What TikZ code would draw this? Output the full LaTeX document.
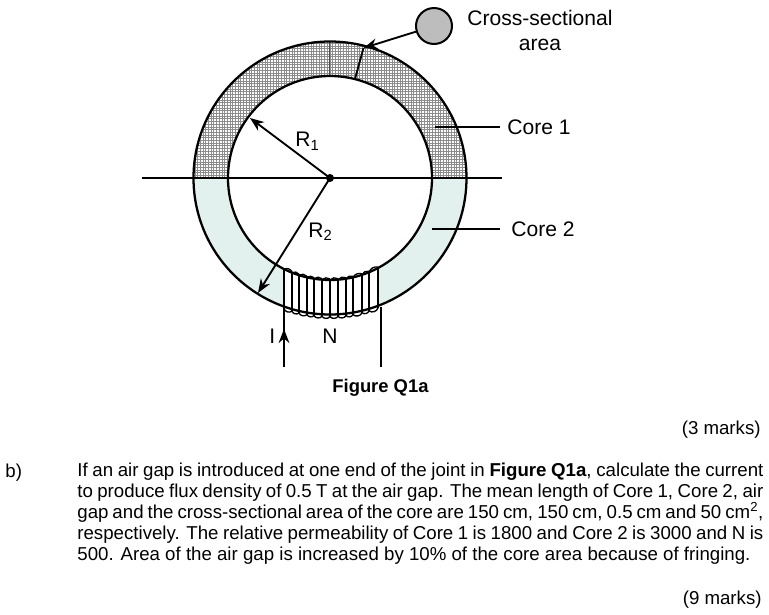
\documentclass[tikz,border=0pt]{standalone}
\usepackage{fontspec}
\setmainfont{Liberation Sans}
\usetikzlibrary{arrows.meta,positioning}
\definecolor{coretwo}{HTML}{E2F0EE}
\definecolor{circgray}{HTML}{BDBDBD}
\begin{document}
\begin{tikzpicture}[x=0.75pt, y=-0.75pt, >={Stealth[length=10.5pt,width=8pt]}, semithick, font=\fontsize{14}{15.75}\selectfont,
    declare function={coiltop(\x)=178+102*sqrt(1-((\x-330)/102)^2); coilbot(\x)=180+136.5*sqrt(1-((\x-330)/136.5)^2);}]
        \tikzstyle{wire}=[black,line width=1.4pt]
        \tikzstyle{lab}=[inner sep=0pt,anchor=base west]
        \tikzstyle{biglab}=[lab,font=\fontsize{15.8}{18.75}\selectfont]
        \useasboundingbox (0,0) rectangle (769,615);
        \coordinate (O) at (330,178);
        % core 2, lower half
        \begin{scope}
        \clip (190,178) rectangle (470,320);
        \fill[coretwo,even odd rule] (O) circle (136.5) (O) circle (102);
        \fill[white] (284,262) rectangle (379,315);
        \end{scope}
        % core 1, upper half with the fine grid
        \begin{scope}[even odd rule]
        \clip (190,178) rectangle (470,38);
        \clip (O) circle (136.5) (O) circle (102);
        \fill[white] (190,38) rectangle (470,178);
        \foreach \gx in {0,...,102}
            \draw[black!45,line width=0.25pt] (192+2.7*\gx,38) -- (192+2.7*\gx,178);
        \foreach \gy in {0,...,52}
            \draw[black!45,line width=0.25pt] (190,178-2.7*\gy) -- (470,178-2.7*\gy);
        \draw[black!70,line width=0.5pt] (329,40) -- (329,78);
        \end{scope}
        \fill[white] (O) circle (102);
        \draw[wire,line width=1.7pt] (O) circle (136.5);
        \draw[wire,line width=1.7pt] (O) circle (102);
        % coil
        \foreach \cx [remember=\cx as \px (initially 284)] in {292,299,307,314,322,330,338,346,353,362,369,378}{
            \draw[wire,line width=1pt] (\px,{coilbot(\px)}) to[bend right=60] (\cx,{coilbot(\cx)});
            \draw[wire,line width=1pt] (\px,{coiltop(\px)}) to[bend left=40] (\cx,{coiltop(\cx)-1});
        }
        \foreach \cx in {284,292,299,307,314,322,330,338,346,353,362,369,378}
            \draw[wire,line width=1.3pt] (\cx,{coiltop(\cx)-1}) -- (\cx,{coilbot(\cx)});
        % axis and radii
        \node[circle,fill=black,inner sep=0pt,minimum size=6pt] (centre) at (O) {};
        \coordinate (axisl) at (142,178);
        \coordinate (axisr) at (502,178);
        \draw[wire] (axisl) -- (axisr);
        \coordinate (tipone) at (250,118);
        \coordinate (tiptwo) at (258,293);
        \draw[wire,->] (centre.center) -- (tipone);
        \draw[wire,->] (centre.center) -- (tiptwo);
        % section marker
        \node[draw,circle,fill=circgray,line width=1.5pt,minimum size=27pt,inner sep=0pt] (area) at (434,26) {};
        \coordinate (secout) at (363.5,48);
        \coordinate (secin) at (355,79);
        \draw[wire,->] (area) -- (secout);
        \draw[wire] (secout) -- (secin);
        % labels
        \node[align=center,inner sep=0pt,font=\fontsize{15.8}{18.75}\selectfont] (arealab) at (540,30) {Cross-sectional\\area};
        \node[biglab] (coreone) at (507,134) {Core 1};
        \node[biglab] (coretwolab) at (511,236) {Core 2};
        \coordinate (coreonein) at (435,127);
        \coordinate (coretwoin) at (432,229);
        \draw[wire] (coreonein) -- (500,127);
        \draw[wire] (coretwoin) -- (500,229);
        \node[biglab] (rone) at (295,146.5) {R\textsubscript{1}};
        \node[biglab] (rtwo) at (308,237) {R\textsubscript{2}};
        % leads
        \coordinate (leadl) at (284,367);
        \coordinate (leadr) at (381,367);
        \coordinate (leadlm) at (284,329);
        \draw[wire] (leadl) -- (284,306);
        \draw[wire,->] (leadl) -- (leadlm);
        \draw[wire] (leadr) -- (381,307);
        \node[biglab] (cur) at (269,343) {I};
        \node[biglab] (turns) at (322,343) {N};
        \node[lab,font=\fontsize{13.8}{14}\selectfont\bfseries] (figcap) at (332,392) {Figure Q1a};
        \node[inner sep=0pt,anchor=base east] (marksa) at (761,434) {(3 marks)};
        \node[lab] (partb) at (5,477) {b)};
        \node[inner sep=0pt,anchor=north west,text width=514.5pt,align=justify] (para) at (77,463) {%
            If an air gap is introduced at one end of the joint in \textbf{Figure Q1a}, calculate the current\linebreak
            to produce flux density of 0.5 T at the air gap. The mean length of Core 1, Core 2, air\linebreak
            gap and the cross-sectional area of the core are 150 cm, 150 cm, 0.5 cm and 50 cm\textsuperscript{2},\linebreak
            respectively. The relative permeability of Core 1 is 1800 and Core 2 is 3000 and N is\linebreak
            500. Area of the air gap is increased by 10\% of the core area because of fringing.};
        \node[inner sep=0pt,anchor=base east] (marksb) at (762,604) {(9 marks)};
    \end{tikzpicture}
\end{document}
